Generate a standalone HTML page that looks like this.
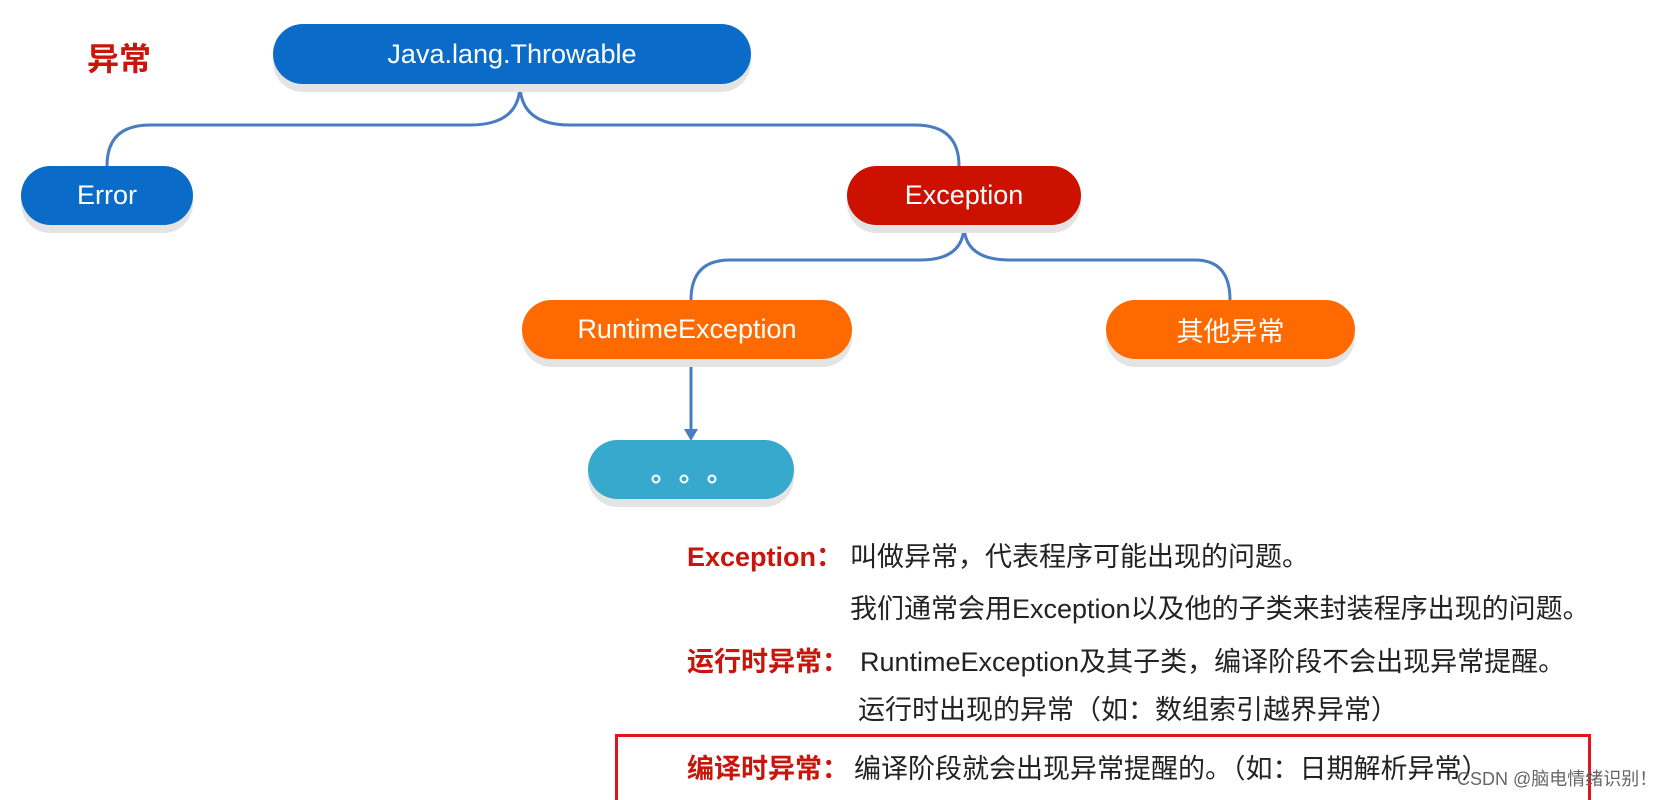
<!DOCTYPE html>
<html><head><meta charset="utf-8"><style>
body{margin:0;width:1680px;height:800px;background:#fff;position:relative;overflow:hidden;font-family:"Liberation Sans","Noto Sans CJK SC",sans-serif}
.n{position:absolute;border-radius:30px;color:#fff;font-size:27px;display:flex;align-items:center;justify-content:center;box-shadow:0 8px 0 #e4e4e4}
.t{position:absolute;font-size:27px;color:#222;white-space:nowrap;line-height:1}
.r{color:#c8160c;font-weight:bold}
</style></head><body>
<svg width="1680" height="800" style="position:absolute;left:0;top:0">
<g fill="none" stroke="#4a7cc0" stroke-width="3">
<path d="M520 84 Q520 125 470 125 L150 125 Q107 125 107 166"/>
<path d="M520 84 Q520 125 570 125 L915 125 Q959 125 959 166"/>
<path d="M964 225 Q964 260 920 260 L730 260 Q691 260 691 300"/>
<path d="M964 225 Q964 260 1010 260 L1195 260 Q1230 260 1230 300"/>
<path d="M691 359 L691 432"/>
</g>
<path d="M684 429 L698 429 L691 441 Z" fill="#4a7cc0"/>
<g fill="none" stroke="#fff" stroke-width="2">
<circle cx="656" cy="479" r="3.5"/><circle cx="684" cy="479" r="3.5"/><circle cx="712" cy="479" r="3.5"/>
</g>
</svg>
<div class="t" style="left:87px;top:43px;font-size:32px;color:#c8160c;font-weight:bold">异常</div>
<div class="n" style="left:273px;top:24px;width:478px;height:60px;background:#0a6bc8">Java.lang.Throwable</div>
<div class="n" style="left:21px;top:166px;width:172px;height:59px;background:#0a6bc8">Error</div>
<div class="n" style="left:847px;top:166px;width:234px;height:59px;background:#cc1100">Exception</div>
<div class="n" style="left:522px;top:300px;width:330px;height:59px;background:#ff6a00">RuntimeException</div>
<div class="n" style="left:1106px;top:300px;width:249px;height:59px;background:#ff6a00">其他异常</div>
<div class="n" style="left:588px;top:440px;width:206px;height:59px;background:#36a9cc;z-index:-1"></div>
<div class="t" style="left:687px;top:544px"><span class="r">Exception：</span></div>
<div class="t" style="left:850px;top:544px">叫做异常，代表程序可能出现的问题。</div>
<div class="t" style="left:850px;top:596px">我们通常会用Exception以及他的子类来封装程序出现的问题。</div>
<div class="t" style="left:687px;top:649px"><span class="r">运行时异常：</span></div>
<div class="t" style="left:860px;top:649px">RuntimeException及其子类，编译阶段不会出现异常提醒。</div>
<div class="t" style="left:858px;top:697px">运行时出现的异常（如：数组索引越界异常）</div>
<div style="position:absolute;left:615px;top:734px;width:976px;height:66px;border:3px solid #e0141c;border-bottom:none;box-sizing:border-box"></div>
<div class="t" style="left:687px;top:756px"><span class="r">编译时异常：</span></div>
<div class="t" style="left:854px;top:756px">编译阶段就会出现异常提醒的。（如：日期解析异常）</div>
<div class="t" style="left:1457px;top:770px;font-size:18px;color:#666">CSDN @脑电情绪识别！</div>
</body></html>
